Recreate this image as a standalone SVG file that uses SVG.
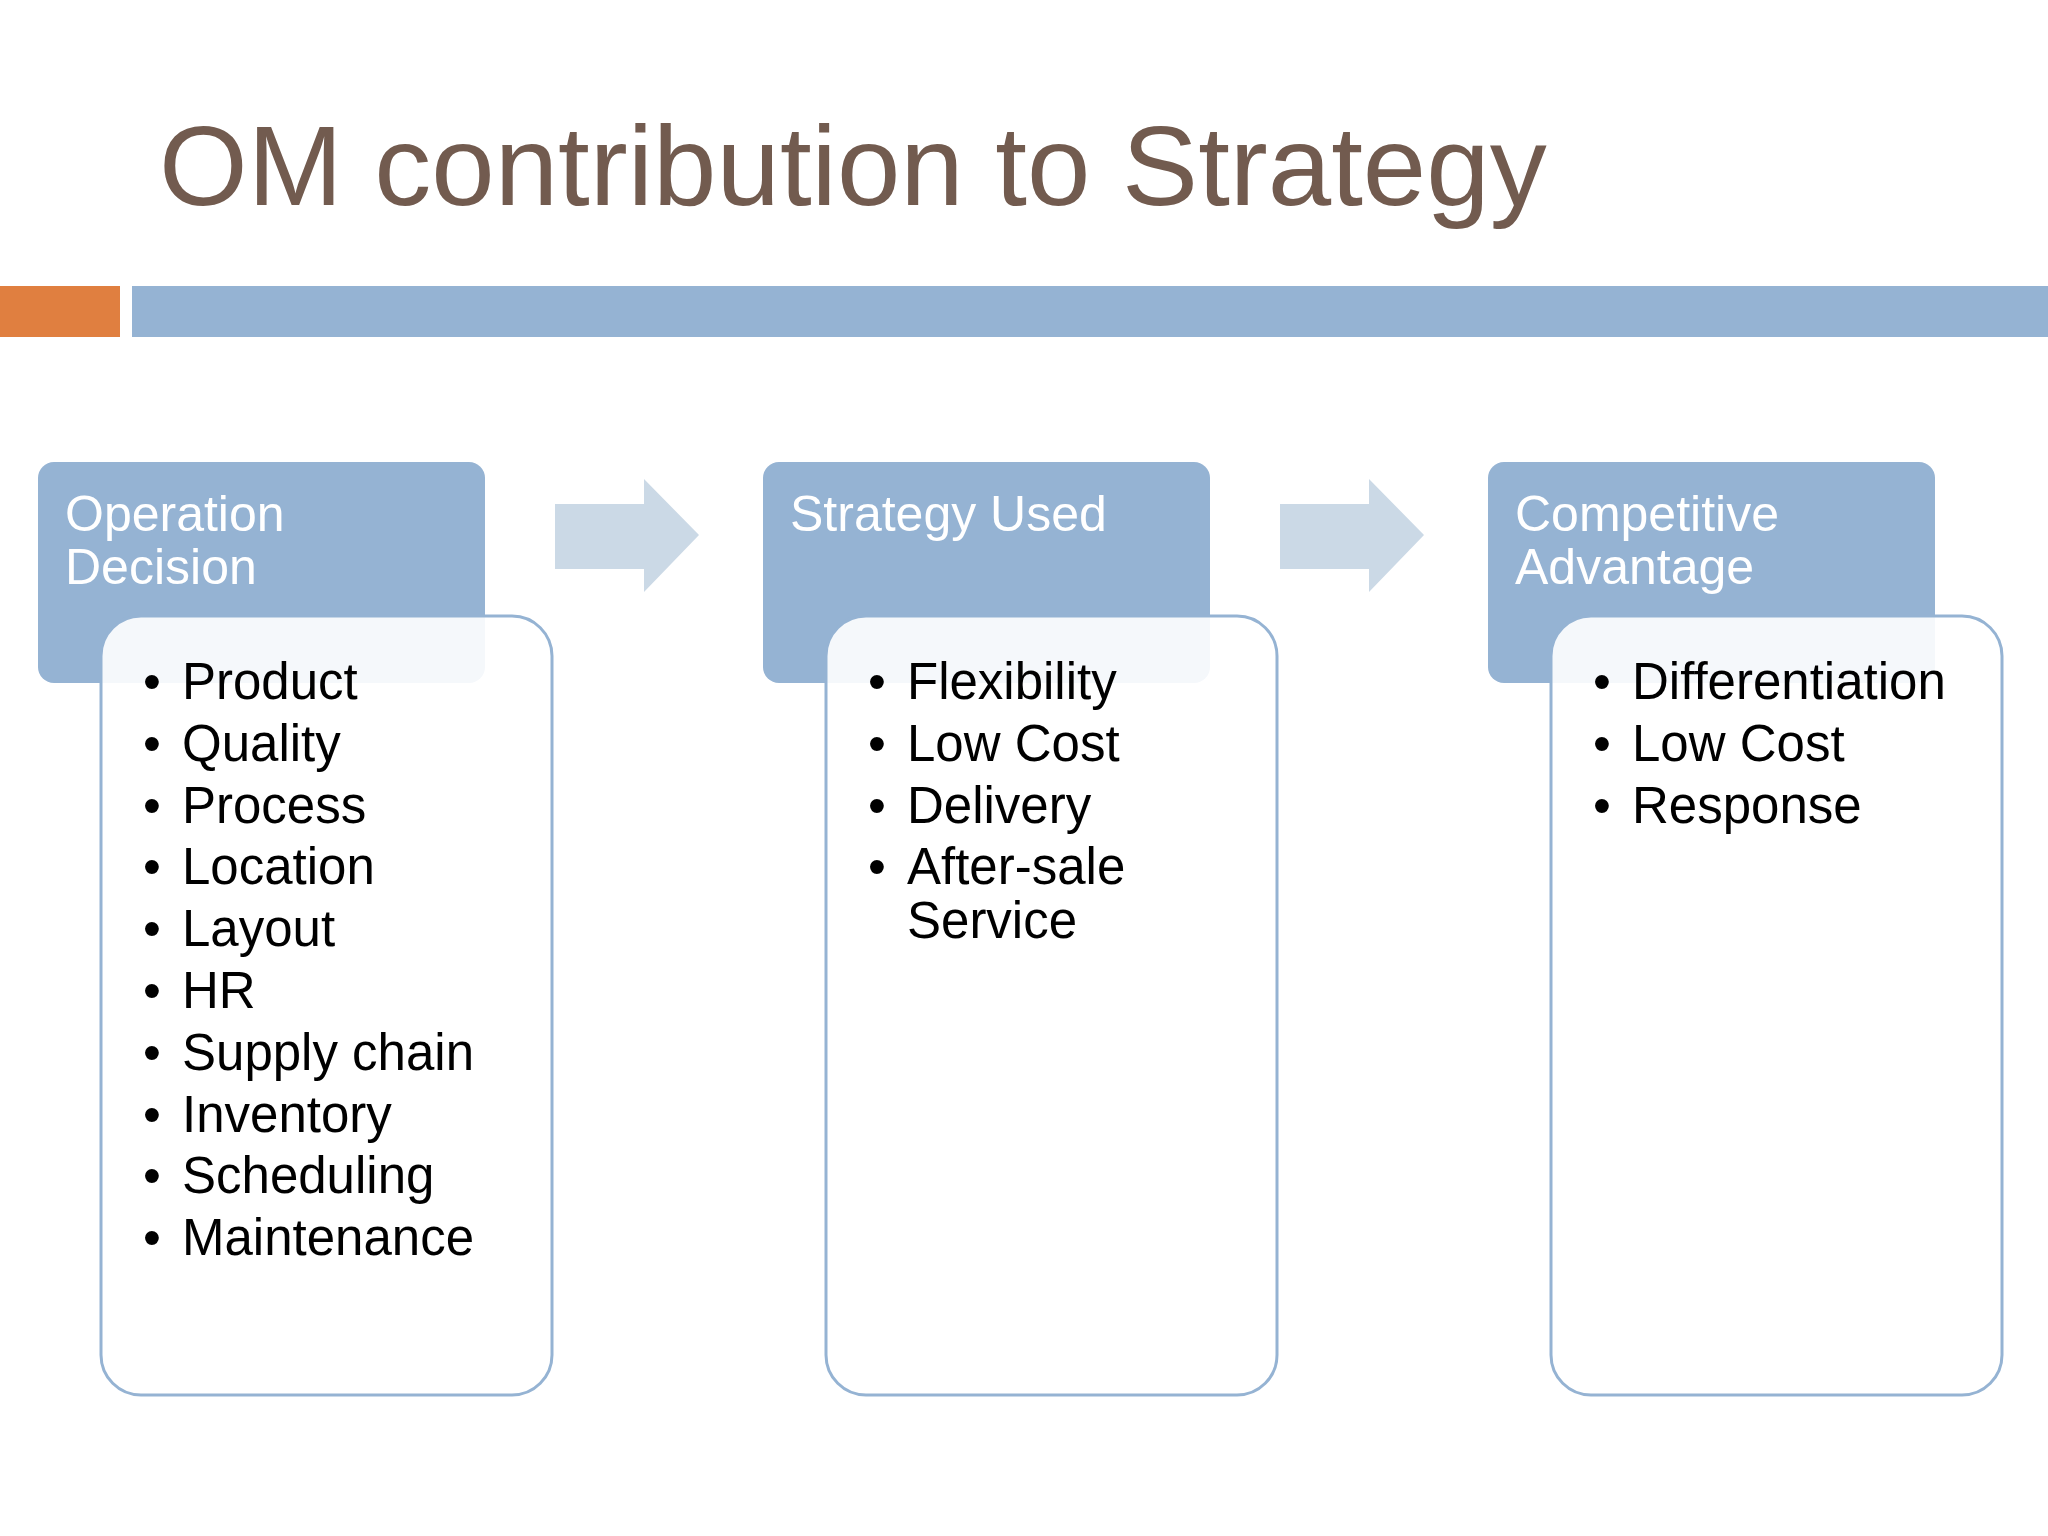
<svg xmlns="http://www.w3.org/2000/svg" width="2048" height="1536" viewBox="0 0 2048 1536">
<style>
.hd{fill:#95b3d3}
.bd{fill:#fff;fill-opacity:0.9;stroke:#95b3d3;stroke-width:3}
.ht{font-family:"Liberation Sans",Arial,sans-serif;font-size:50px;fill:#fff}
.bt{font-family:"Liberation Sans",Arial,sans-serif;font-size:51px;fill:#000}
.ar{fill:#cbd9e6}
</style>
<rect width="2048" height="1536" fill="#fff"/>
<text x="159" y="205" font-family="Liberation Sans,Arial,sans-serif" font-size="114" fill="#725b4f">OM contribution to Strategy</text>
<rect x="0" y="286" width="120" height="51" fill="#e07f40"/>
<rect x="132" y="286" width="1916" height="51" fill="#95b3d3"/>
<g id="connectors">
<polygon class="ar" points="555,504 644,504 644,479 699,535 644,592 644,569 555,569"/>
<polygon class="ar" points="1280,504 1369,504 1369,479 1424,535 1369,592 1369,569 1280,569"/>
</g>
<g id="n1">
<rect class="hd" x="38" y="462" width="447" height="221" rx="16"/>
<text class="ht" x="65" y="531">Operation</text><text class="ht" x="65" y="584">Decision</text>
<rect class="bd" x="101" y="616" width="451" height="779" rx="40"/>
<g class="bt">
<text x="143" y="699">•</text><text x="143" y="761">•</text><text x="143" y="823">•</text><text x="143" y="884">•</text><text x="143" y="946">•</text><text x="143" y="1008">•</text><text x="143" y="1070">•</text><text x="143" y="1132">•</text><text x="143" y="1193">•</text><text x="143" y="1255">•</text>
<text x="182" y="699">Product</text><text x="182" y="761">Quality</text><text x="182" y="823">Process</text><text x="182" y="884">Location</text><text x="182" y="946">Layout</text><text x="182" y="1008">HR</text><text x="182" y="1070">Supply chain</text><text x="182" y="1132">Inventory</text><text x="182" y="1193">Scheduling</text><text x="182" y="1255">Maintenance</text>
</g>
</g>
<g id="n2">
<rect class="hd" x="763" y="462" width="447" height="221" rx="16"/>
<text class="ht" x="790" y="531">Strategy Used</text>
<rect class="bd" x="826" y="616" width="451" height="779" rx="40"/>
<g class="bt">
<text x="868" y="699">•</text><text x="868" y="761">•</text><text x="868" y="823">•</text><text x="868" y="884">•</text>
<text x="907" y="699">Flexibility</text><text x="907" y="761">Low Cost</text><text x="907" y="823">Delivery</text><text x="907" y="884">After-sale</text><text x="907" y="938">Service</text>
</g>
</g>
<g id="n3">
<rect class="hd" x="1488" y="462" width="447" height="221" rx="16"/>
<text class="ht" x="1515" y="531">Competitive</text><text class="ht" x="1515" y="584">Advantage</text>
<rect class="bd" x="1551" y="616" width="451" height="779" rx="40"/>
<g class="bt">
<text x="1593" y="699">•</text><text x="1593" y="761">•</text><text x="1593" y="823">•</text>
<text x="1632" y="699">Differentiation</text><text x="1632" y="761">Low Cost</text><text x="1632" y="823">Response</text>
</g>
</g>
</svg>
